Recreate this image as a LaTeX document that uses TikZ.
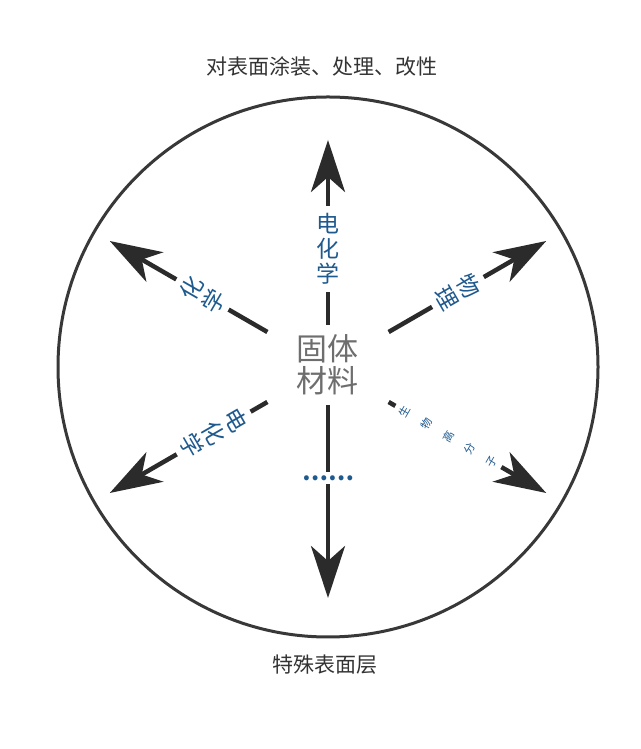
\documentclass[tikz,border=0pt]{standalone}
\usepackage{fontspec}
\setmainfont{Noto Sans CJK SC}
\usepackage{tikz}
\usetikzlibrary{arrows.meta}
\definecolor{kblue}{HTML}{1F5A8F}
\definecolor{kgray}{HTML}{6E6E6E}
\definecolor{ktext}{HTML}{333333}
\definecolor{karrow}{HTML}{2B2B2B}
\definecolor{kring}{HTML}{383838}

\begin{document}
\begin{tikzpicture}[x=1pt, y=1pt,
  arr/.style={-{Stealth[length=52pt, width=34pt, inset=15pt]}, draw=karrow, line width=4.5pt},
  lab/.style={fill=white, text=kblue, align=center, inner sep=7pt, font=\fontsize{23}{25}\selectfont},
  title/.style={text=ktext, font=\fontsize{21}{25}\selectfont}]
\useasboundingbox (0,0) rectangle (640,749);
\coordinate (c) at (328,382);
\draw[line width=3pt, kring] (c) circle[radius=270];
\node[title] (top) at (322,682) {对表面涂装、处理、改性};
\node[title] (bot) at (325,84) {特殊表面层};
\node[text=kgray, align=center, font=\fontsize{31}{32}\selectfont] (mat) at (327,384) {固体\\材料};
% arrow ends
\coordinate (nS) at ([shift={(90:42)}]c);
\coordinate (nE) at ([shift={(90:227)}]c);
\coordinate (sS) at ([shift={(270:38)}]c);
\coordinate (sE) at ([shift={(270:231)}]c);
\coordinate (nwS) at ([shift={(150:70)}]c);
\coordinate (nwE) at ([shift={(150:252)}]c);
\coordinate (neS) at ([shift={(30:70)}]c);
\coordinate (neE) at ([shift={(30:252)}]c);
\coordinate (swS) at ([shift={(210:70)}]c);
\coordinate (swE) at ([shift={(210:252)}]c);
\coordinate (seS) at ([shift={(330:70)}]c);
\coordinate (seE) at ([shift={(330:252)}]c);
\draw[arr] (nS) -- (nE);
\draw[arr] (sS) -- (sE);
\draw[arr] (nwS) -- (nwE);
\draw[arr] (neS) -- (neE);
\draw[arr] (swS) -- (swE);
\draw[arr] (seS) -- (seE);
% labels over the arrows
\node[lab] (nL) at ([shift={(90:118)}]c) {电\\化\\学};
\node[lab, inner sep=3pt, font=\fontsize{23}{25}\selectfont\bfseries] (sL) at ([shift={(270:111)}]c) {……};
\node[lab, rotate=60] (nwL) at ([shift={(150:145)}]c) {化\\学};
\node[lab, rotate=-60] (neL) at ([shift={(30:150)}]c) {物\\理};
\node[lab, rotate=-60] (swL) at ([shift={(210:132)}]c) {电\\化\\学};
\node[lab, rotate=60, inner sep=6pt, font=\fontsize{11}{25}\selectfont] (seL) at ([shift={(330:139)}]c) {生\\物\\高\\分\\子};
\end{tikzpicture}
\end{document}
